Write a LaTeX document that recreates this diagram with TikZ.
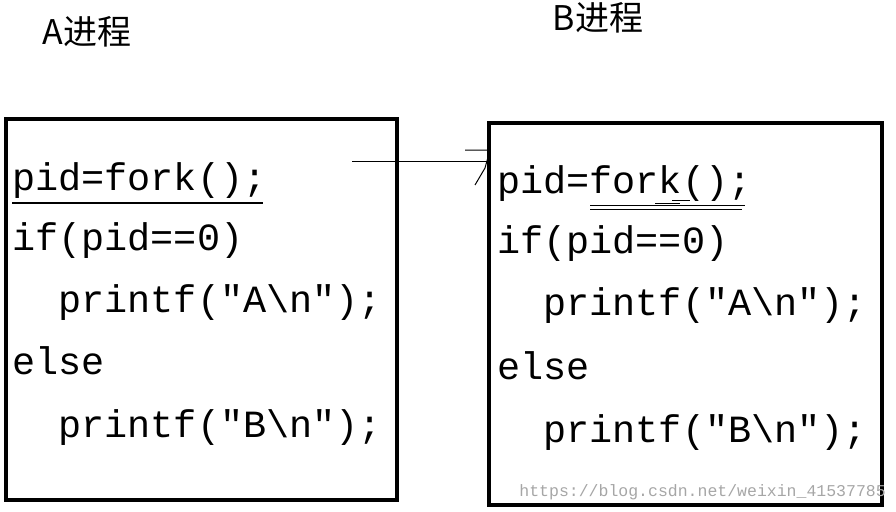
\documentclass[tikz,border=0pt]{standalone}
\usepackage{fontspec}
\setmonofont{Liberation Mono}
\newfontfamily\cjk{Noto Sans CJK SC}
\begin{document}
\begin{tikzpicture}[x=1pt,y=-1pt,
  code/.style={font=\ttfamily\fontsize{38.5}{38.5}\selectfont,anchor=base west,inner sep=0pt},
  title/.style={font=\cjk\fontsize{34}{34}\selectfont,anchor=center,inner sep=0pt},
  box/.style={draw,line width=4pt}]
\useasboundingbox (0,0) rectangle (896,511);
\node[title] (ta) at (87,32) {A进程};
\node[title] (tb) at (598,18) {B进程};
\draw[box] (6,119) rectangle (397,500);
\draw[box] (489,123) rectangle (882,505);
\foreach \t/\y [count=\i] in {{pid=fork();}/190,{if(pid==0)}/250,{\ \ printf("A\textbackslash n");}/312,{else}/374,{\ \ printf("B\textbackslash n");}/437}{
  \node[code] (a\i) at (12,\y) {\t};
}
\foreach \t/\y [count=\i] in {{pid=fork();}/193,{if(pid==0)}/253,{\ \ printf("A\textbackslash n");}/315,{else}/379,{\ \ printf("B\textbackslash n");}/442}{
  \node[code] (b\i) at (497,\y) {\t};
}
\coordinate (u1) at (12,203); \coordinate (u2) at (263,203);
\draw[line width=1.2pt] (u1) -- (u2);
\draw[line width=1pt] (590,205) -- (745,205) (590,209) -- (742,209)
  (655,203) -- (680,203) (672,200) -- (690,200);
\coordinate (s) at (352,161); \coordinate (e) at (487,161);
\draw[line width=1pt] (s) -- (e);
\draw[line width=1pt] (465,150) -- (490,150) -- (485,168) -- (475,185);
\node[font=\ttfamily\fontsize{16.5}{16.5}\selectfont,text=black!35,anchor=east,inner sep=0pt] (wm) at (886,492) {https://blog.csdn.net/weixin\_41537785};
\end{tikzpicture}
\end{document}
